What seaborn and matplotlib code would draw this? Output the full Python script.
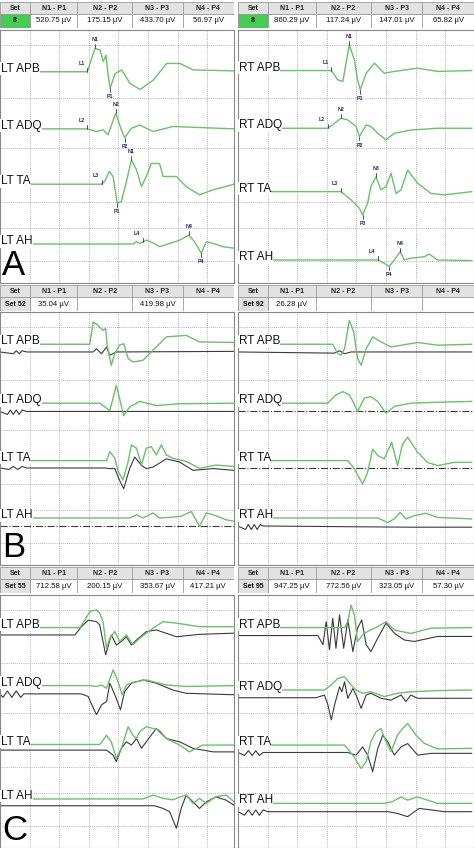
import matplotlib
matplotlib.use("Agg")
import matplotlib.pyplot as plt
from matplotlib.patches import Rectangle
import numpy as np
import seaborn as sns

sns.set_theme(style="white")
plt.rcParams["font.family"] = ["Liberation Sans", "DejaVu Sans"]

GREEN = "#6cc06c"
BLACK = "#3a3a3a"
W, H = 474, 848

MUSCLES = ["APB", "ADQ", "TA", "AH"]
HEAD_COLS = ["Set", "N1 - P1", "N2 - P2", "N3 - P3", "N4 - P4"]

# header values per panel: (set label, amplitudes)
HEAD_A_LT = ("8", ["520.75 µV", "175.15 µV", "433.70 µV", "56.97 µV"])
HEAD_A_RT = ("8", ["860.29 µV", "117.24 µV", "147.01 µV", "65.82 µV"])
HEAD_B_LT = ("Set 52", ["35.04 µV", "", "419.98 µV", ""])
HEAD_B_RT = ("Set 92", ["26.28 µV", "", "", ""])
HEAD_C_LT = ("Set 55", ["712.58 µV", "200.15 µV", "353.67 µV", "417.21 µV"])
HEAD_C_RT = ("Set 95", ["947.25 µV", "772.56 µV", "323.05 µV", "57.30 µV"])

# ---- traces: time (divisions) and amplitude (divisions) per muscle ----
A_LT = {
    "APB": ([0, 2.95, 3.21, 3.38, 3.49, 3.58, 3.66, 3.72, 3.89, 4.11, 4.39, 4.73, 5.18, 5.63, 6.08, 6.53, 7.9],
            [0, 0, 0.79, 0.73, 0.34, 0.56, -0.17, -0.56, -0.06, 0.06, -0.39, -0.6, -0.28, 0.28, 0.28, 0.06, 0.03]),
    "ADQ": ([0, 2.95, 3.26, 3.48, 3.65, 3.91, 4.1, 4.21, 4.44, 4.72, 5.17, 5.84, 7.9],
            [0, 0, -0.09, -0.03, -0.2, 0.53, -0.03, -0.3, 0.02, 0.13, -0.09, 0.08, 0]),
    "TA": ([0, 3.43, 3.54, 3.69, 3.82, 3.96, 4.1, 4.25, 4.44, 4.61, 4.78, 4.94, 5.11, 5.39, 5.51, 5.96, 6.29, 6.74, 7.2, 7.9],
           [0, 0, 0.1, 0.43, 0.26, -0.64, -0.58, 0.0, 0.82, 0.49, -0.08, 0.26, 0.7, 0.7, 0.26, 0.26, -0.08, -0.36, -0.19, 0]),
    "AH": ([0, 4.5, 4.61, 4.72, 4.94, 5.17, 5.39, 5.73, 6.07, 6.38, 6.57, 6.8, 6.97, 7.2, 7.53, 7.9],
           [0, 0, 0.08, 0.02, 0.13, 0.04, -0.09, 0.02, 0.13, 0.3, 0.08, -0.31, 0.08, 0.02, -0.09, -0.14]),
}
A_RT = {
    "APB": ([0, 3.15, 3.37, 3.54, 3.76, 3.93, 4.04, 4.13, 4.33, 4.61, 4.94, 5.28, 6.07, 6.74, 7.9],
            [0, 0, -0.31, -0.37, 0.87, 0.36, -0.31, -0.65, -0.09, 0.25, -0.09, -0.03, 0.08, -0.03, 0]),
    "ADQ": ([0, 3.03, 3.26, 3.48, 3.71, 3.99, 4.1, 4.33, 4.49, 4.72, 5.0, 5.28, 5.84, 6.74, 7.9],
            [0, 0, 0.17, 0.34, 0.28, 0.06, -0.28, 0.11, 0.06, -0.17, -0.39, -0.17, -0.06, 0, 0]),
    "TA": ([0, 3.48, 3.82, 4.1, 4.21, 4.38, 4.49, 4.66, 4.83, 5.0, 5.17, 5.34, 5.51, 5.73, 6.07, 6.52, 6.97, 7.9],
           [0, 0, -0.28, -0.56, -0.79, -0.39, 0.17, 0.5, 0.06, 0.17, 0.62, -0.06, 0.06, 0.73, 0.28, -0.06, -0.11, 0]),
    "AH": ([0, 4.72, 4.94, 5.11, 5.28, 5.48, 5.62, 5.84, 6.29, 6.46, 6.74, 7.9],
           [0, 0, -0.11, -0.22, 0, 0.28, 0, 0.06, 0.11, 0.2, 0, -0.02]),
}
B_LT_G = {
    "APB": ([0, 3.03, 3.15, 3.31, 3.48, 3.57, 3.62, 3.76, 3.88, 4.04, 4.18, 4.33, 4.49, 4.83, 5.17, 5.62, 6.29, 6.74, 7.9],
            [0, 0, 0.75, 0.64, 0.47, 0.53, -0.03, -0.71, -0.31, -0.03, 0.02, -0.48, -0.6, -0.54, -0.2, 0.25, 0.3, 0.08, 0.06]),
    "ADQ": ([0, 3.37, 3.71, 3.93, 4.07, 4.18, 4.38, 4.72, 5.28, 6.07, 7.9],
            [0, 0, -0.25, 0.6, 0.03, -0.42, -0.13, 0.06, -0.08, -0.02, 0]),
    "TA": ([0, 3.6, 3.71, 3.88, 3.99, 4.16, 4.33, 4.44, 4.61, 4.78, 4.94, 5.11, 5.28, 5.45, 5.62, 5.84, 6.29, 6.74, 7.3, 7.9],
           [0, 0, 0.3, 0.08, -0.37, -0.65, -0.03, 0.53, 0.42, -0.15, 0.42, 0.47, 0.19, 0.53, 0.19, 0.08, -0.03, -0.26, -0.15, -0.2]),
    "AH": ([0, 4.38, 4.61, 4.83, 5.17, 5.39, 5.84, 6.12, 6.46, 6.74, 6.97, 7.2, 7.64, 7.9],
           [0, 0, 0.11, 0, 0.17, 0, 0.03, 0.06, 0.22, -0.28, 0.17, 0.11, -0.06, -0.11]),
}
B_LT_K = {
    "APB": ([0, 0.45, 0.55, 0.65, 0.75, 0.9, 3.15, 3.26, 3.43, 3.6, 3.71, 3.93, 7.9],
            [0, -0.06, 0.04, -0.06, 0.04, 0, 0, 0.11, -0.06, 0.17, -0.11, 0, 0.02]),
    "ADQ": ([0, 0.25, 0.35, 0.45, 0.55, 0.65, 0.75, 0.9, 7.9],
            [0, -0.1, 0.05, -0.1, 0.05, -0.1, 0.05, 0, 0]),
    "TA": ([0, 0.3, 0.45, 0.6, 0.75, 0.9, 3.54, 3.71, 3.88, 4.04, 4.18, 4.38, 4.55, 4.78, 4.94, 5.17, 5.62, 6.07, 6.52, 7.2, 7.9],
           [0, -0.05, 0.05, -0.05, 0.05, 0, 0, -0.02, -0.02, -0.42, -0.7, -0.02, 0.37, 0.09, -0.02, 0.03, 0.31, 0.2, -0.08, -0.02, -0.08]),
    "AH": ([0, 7.9], [0, 0]),
}
B_RT_G = {
    "APB": ([0, 3.2, 3.37, 3.48, 3.6, 3.76, 3.91, 4.04, 4.16, 4.33, 4.55, 4.83, 5.17, 6.07, 6.74, 7.9],
            [0, 0, -0.31, -0.37, -0.15, 0.81, 0.42, -0.48, -0.71, -0.15, 0.25, 0.08, -0.09, 0.06, -0.03, 0]),
    "ADQ": ([0, 3.03, 3.31, 3.54, 3.76, 3.88, 4.04, 4.27, 4.49, 4.72, 5.0, 5.28, 5.84, 6.74, 7.9],
            [0, 0, 0.28, 0.39, 0.28, 0.06, -0.28, 0.17, 0.22, 0.06, -0.34, -0.11, 0, 0.03, 0.06]),
    "TA": ([0, 3.71, 3.93, 4.21, 4.38, 4.55, 4.72, 4.94, 5.19, 5.39, 5.56, 5.73, 6.07, 6.4, 6.74, 7.3, 7.9],
           [0, 0, -0.28, -0.79, -0.39, 0.39, 0.17, 0.06, 0.62, -0.17, 0.56, 0.79, 0.28, -0.06, -0.17, -0.06, -0.06]),
    "AH": ([0, 4.72, 5.06, 5.28, 5.48, 5.67, 5.96, 6.35, 6.74, 7.9],
           [0, 0, -0.15, -0.03, 0.19, -0.03, 0.08, 0.16, 0.02, -0.03]),
}
B_RT_K = {
    "APB": ([0, 3.26, 3.43, 3.6, 3.82, 7.9], [0, -0.04, 0.04, -0.06, 0, 0]),
    "ADQ": ([0, 7.9], [0, 0]),
    "TA": ([0, 7.9], [0, 0]),
    "AH": ([0, 0.25, 0.35, 0.45, 0.55, 0.65, 0.75, 0.85, 5.8, 7.9],
           [0, -0.12, 0.05, -0.12, 0.05, -0.12, 0.05, 0, -0.04, -0.04]),
}
C_LT_G = {
    "APB": ([0, 2.7, 2.87, 3.04, 3.26, 3.37, 3.48, 3.6, 3.71, 3.88, 4.04, 4.27, 4.49, 4.72, 5.17, 5.51, 5.96, 6.74, 7.9],
            [0, 0, 0.26, 0.54, 0.6, 0.48, 0.2, -0.7, -0.36, -0.13, -0.47, -0.25, -0.58, -0.36, -0.02, 0.2, 0.15, 0.03, 0.03]),
    "ADQ": ([0, 3.03, 3.26, 3.43, 3.6, 3.82, 3.99, 4.13, 4.27, 4.49, 4.94, 5.62, 6.29, 7.9],
            [0, 0, -0.03, 0.02, -0.09, 0.53, 0.13, -0.31, 0.02, 0.11, 0.19, 0.02, -0.03, 0]),
    "TA": ([0, 3.37, 3.6, 3.76, 3.93, 4.1, 4.33, 4.49, 4.61, 4.72, 4.94, 5.17, 5.39, 5.62, 6.07, 6.4, 6.85, 7.9],
           [0, 0, 0.31, 0.09, -0.47, -0.13, 0.6, 0.31, 0.2, 0.43, 0.6, 0.54, 0.48, 0.2, -0.02, -0.25, -0.02, -0.02]),
    "AH": ([0, 4.83, 5.17, 5.51, 5.84, 6.12, 6.29, 6.52, 6.74, 6.97, 7.3, 7.64, 7.9],
           [0, 0, 0.13, 0.02, -0.03, 0.08, 0.13, -0.15, 0.02, -0.15, 0.08, 0.13, -0.09]),
}
C_LT_K = {
    "APB": ([0, 2.53, 2.75, 2.98, 3.26, 3.37, 3.48, 3.57, 3.76, 3.93, 4.1, 4.27, 4.44, 4.61, 4.94, 5.28, 5.96, 6.74, 7.9],
            [0, 0, 0.28, 0.5, 0.45, 0.34, -0.22, -0.67, 0, -0.34, -0.22, -0.06, -0.34, -0.17, 0.11, 0.17, -0.06, 0.02, 0.06]),
    "ADQ": ([0, 0.1, 0.25, 0.4, 0.55, 0.7, 0.8, 2.75, 2.98, 3.15, 3.26, 3.43, 3.6, 3.71, 3.88, 4.07, 4.21, 4.44, 4.83, 5.28, 5.84, 6.29, 7.9],
            [0, -0.12, 0.1, -0.12, 0.1, -0.12, 0, 0, -0.09, -0.48, -0.7, -0.37, -0.26, 0.36, -0.03, -0.54, 0.08, 0.36, 0.47, 0.36, 0.13, 0.02, -0.03]),
    "TA": ([0, 3.6, 3.82, 3.93, 4.1, 4.27, 4.44, 4.61, 4.78, 4.94, 5.28, 5.62, 6.07, 6.52, 7.2, 7.9],
           [0, 0, -0.17, -0.39, 0.06, 0.28, 0.17, 0.39, 0.06, 0.28, 0.73, 0.39, 0.28, 0.06, -0.06, -0.06]),
    "AH": ([0, 5.22, 5.51, 5.73, 5.96, 6.12, 6.29, 6.52, 6.74, 6.97, 7.3, 7.64, 7.9],
           [0, 0, -0.09, -0.2, -0.76, -0.09, 0.36, 0.13, -0.09, 0.13, 0.3, 0.19, 0.02]),
}
C_RT_G = {
    "APB": ([0, 3.6, 3.71, 3.82, 3.93, 4.04, 4.21, 4.38, 4.72, 5.0, 5.28, 5.84, 6.52, 7.9],
            [0, 0, 0.2, 0.76, 0.43, -0.47, -0.25, -0.13, 0.03, 0.2, -0.08, -0.2, -0.02, 0]),
    "ADQ": ([0, 2.92, 3.15, 3.37, 3.6, 3.82, 3.99, 4.21, 4.49, 4.94, 5.39, 5.84, 6.74, 7.9],
            [0, 0, 0.17, 0.39, 0.45, 0.17, 0, -0.11, -0.06, -0.22, -0.11, -0.06, -0.02, 0]),
    "TA": ([0, 3.6, 3.88, 4.16, 4.33, 4.49, 4.66, 4.83, 5.0, 5.17, 5.39, 5.56, 5.73, 6.01, 6.29, 6.74, 7.9],
           [0, 0, -0.34, -0.79, -0.56, 0.11, 0.45, 0.56, 0.11, -0.22, 0.34, 0.56, 0.73, 0.34, 0.06, -0.13, -0.11]),
    "AH": ([0, 4.94, 5.22, 5.51, 5.73, 6.07, 6.4, 6.74, 7.9],
           [0, 0, 0.06, 0.22, 0.11, 0.22, 0.11, 0, 0]),
}
C_RT_K = {
    "APB": ([0, 2.7, 2.87, 2.98, 3.09, 3.2, 3.31, 3.43, 3.57, 3.71, 3.88, 4.04, 4.18, 4.33, 4.49, 4.72, 5.0, 5.28, 5.62, 5.96, 6.74, 7.9],
            [0, 0, -0.31, 0.47, -0.48, 0.58, -0.43, 0.7, -0.43, 0.53, -0.54, 0.25, 0.53, -0.31, -0.54, -0.09, 0.42, 0.08, -0.15, -0.2, -0.03, -0.03]),
    "ADQ": ([0, 2.64, 2.92, 3.04, 3.15, 3.26, 3.43, 3.51, 3.6, 3.71, 3.88, 3.99, 4.16, 4.33, 4.49, 4.83, 5.17, 5.51, 5.67, 5.84, 6.07, 6.74, 7.9],
            [0, 0, 0.09, -0.25, -0.75, -0.25, 0.37, 0.2, 0.54, -0.02, 0.31, 0.09, -0.36, 0.09, 0.15, -0.02, -0.08, 0.09, -0.13, 0.09, -0.02, -0.02, -0.02]),
    "TA": ([0, 0.22, 0.35, 0.48, 0.6, 0.72, 0.85, 3.71, 3.99, 4.21, 4.38, 4.55, 4.72, 4.89, 5.06, 5.28, 5.51, 5.73, 6.07, 6.52, 7.9],
           [0, -0.1, 0.06, -0.1, 0.06, -0.1, 0, 0, -0.09, 0.19, -0.09, -0.65, 0.13, 0.58, 0.36, -0.09, 0.19, 0.3, -0.09, -0.03, -0.03]),
    "AH": ([0, 0.22, 0.35, 0.48, 0.6, 0.72, 0.85, 1.0, 5.06, 5.39, 5.73, 5.96, 6.12, 6.52, 6.97, 7.9],
           [0, -0.12, 0.06, -0.12, 0.06, -0.12, 0.06, 0, 0, -0.06, -0.17, 0, 0.11, 0.06, 0, 0]),
}

# trace baselines (divisions below top of trace area)
BASE_A_LT = [-1.41, -3.34, -5.21, -7.23]
BASE_A_RT = [-1.37, -3.32, -5.46, -7.77]
BASE_B_G = [-1.09, -3.08, -5.02, -6.96]
BASE_B_K = [-1.35, -3.36, -5.27, -7.23]
BASE_C_LT_G = [-1.1, -3.06, -5.05, -6.89]
BASE_C_LT_K = [-1.35, -3.34, -5.24, -7.12]
BASE_C_RT_G = [-1.1, -3.21, -5.07, -7.04]
BASE_C_RT_K = [-1.37, -3.47, -5.32, -7.32]

# latency / peak markers for the top row: (muscle, label, time, above)
MARK_A_LT = [("APB", "L1", 2.95, True), ("APB", "N1", 3.21, True), ("APB", "P1", 3.72, False),
             ("ADQ", "L2", 2.95, True), ("ADQ", "N2", 3.91, True), ("ADQ", "P2", 4.21, False),
             ("TA", "L3", 3.43, True), ("TA", "N1", 4.44, True), ("TA", "P1", 3.96, False),
             ("AH", "L4", 4.83, True), ("AH", "N4", 6.38, True), ("AH", "P4", 6.8, False)]
MARK_A_RT = [("APB", "L1", 3.15, True), ("APB", "N1", 3.76, True), ("APB", "P1", 4.13, False),
             ("ADQ", "L2", 3.03, True), ("ADQ", "N2", 3.48, True), ("ADQ", "P2", 4.1, False),
             ("TA", "L3", 3.48, True), ("TA", "N3", 4.66, True), ("TA", "P3", 4.21, False),
             ("AH", "L4", 4.72, True), ("AH", "N4", 5.48, True), ("AH", "P4", 5.11, False)]

fig = plt.figure(figsize=(W / 100, H / 100), dpi=100)


def px_axes(x0, y0, w, h):
    return fig.add_axes([x0 / W, 1 - (y0 + h) / H, w / W, h / H])


def draw_header(x0, y0, w, head, green):
    ax = px_axes(x0, y0, w, 26)
    ax.set_xlim(0, w)
    ax.set_ylim(26, 0)
    ax.axis("off")
    edges = np.array([0, 0.128, 0.33, 0.565, 0.78, 1.0]) * w
    ax.add_patch(Rectangle((0, 0), w, 12, fc="#e2e2e2", ec="#9a9a9a", lw=0.6))
    ax.add_patch(Rectangle((0, 12), w, 14, fc="white", ec="#9a9a9a", lw=0.6))
    set_lbl, vals = head
    ax.add_patch(Rectangle((0, 12), edges[1], 14, fc="#44cc55" if green else "#e2e2e2",
                           ec="#9a9a9a", lw=0.6))
    for e in edges[1:-1]:
        ax.plot([e, e], [0, 26], color="#9a9a9a", lw=0.6)
    for i, col in enumerate(HEAD_COLS):
        ax.text((edges[i] + edges[i + 1]) / 2, 6.5, col, ha="center", va="center",
                fontsize=5, fontweight="bold", color="#222222")
    ax.text(edges[1] / 2, 19, set_lbl, ha="center", va="center", fontsize=5,
            fontweight="bold", color="#111111")
    for i, v in enumerate(vals):
        ax.text((edges[i + 1] + edges[i + 2]) / 2, 19, v, ha="center", va="center",
                fontsize=5.6, color="#111111")


def draw_traces(x0, y0, w, side, green, base_g, black=None, base_k=None, marks=(), letter=None):
    ax = px_axes(x0, y0, w, 253)
    ax.set_xlim(0, w / 29.6)
    ax.set_ylim(-253 / 29.6, 0)
    for gx in range(1, 8):
        ax.axvline(gx, color="#9a9a9a", lw=0.6, ls=(0, (1, 1.5)))
    for gy in [-0.5, -2.3, -4.0, -5.8, -6.7, -7.8]:
        ax.axhline(gy, color="#9a9a9a", lw=0.6, ls=(0, (1, 1.5)))
    ax.set_xticks([])
    ax.set_yticks([])
    for s in ax.spines.values():
        s.set_color("#888888")
        s.set_linewidth(0.8)
    if black is not None:
        for m, b in zip(MUSCLES, base_k):
            t, a = black[m]
            dashed = len(t) == 2
            sns.lineplot(x=t, y=np.array(a) + b, ax=ax, color=BLACK, lw=0.8,
                         ls="-." if dashed else "-", estimator=None)
    for m, b in zip(MUSCLES, base_g):
        t, a = green[m]
        sns.lineplot(x=t, y=np.array(a) + b, ax=ax, color=GREEN, lw=1.0, estimator=None)
        ax.text(0.02, b + 0.1, f"{side} {m}", ha="left", va="center", fontsize=8.5,
                color="#111111", zorder=5,
                bbox=dict(fc="white", ec="none", pad=0.3))
    for m, lbl, t0, above in marks:
        b = base_g[MUSCLES.index(m)]
        t, a = green[m]
        yv = np.interp(t0, t, a) + b
        dy = 0.22 if above else -0.22
        ax.plot([t0, t0], [yv, yv + dy * 0.6], color="#333366", lw=0.6)
        ax.text(t0 - (0.2 if lbl.startswith("L") else 0), yv + dy * 1.3, lbl, ha="center",
                va="center", fontsize=3.8, fontweight="bold", color="#22226a")
    if letter:
        ax.text(0.08, -8.5, letter, ha="left", va="bottom", fontsize=25, color="black")


draw_header(0, 2, 234, HEAD_A_LT, True)
draw_header(238, 2, 236, HEAD_A_RT, True)
draw_traces(0, 30, 234, "LT", A_LT, BASE_A_LT, marks=MARK_A_LT, letter="A")
draw_traces(238, 30, 236, "RT", A_RT, BASE_A_RT, marks=MARK_A_RT)

draw_header(0, 285, 234, HEAD_B_LT, False)
draw_header(238, 285, 236, HEAD_B_RT, False)
draw_traces(0, 312, 234, "LT", B_LT_G, BASE_B_G, B_LT_K, BASE_B_K, letter="B")
draw_traces(238, 312, 236, "RT", B_RT_G, BASE_B_G, B_RT_K, BASE_B_K)

draw_header(0, 567, 234, HEAD_C_LT, False)
draw_header(238, 567, 236, HEAD_C_RT, False)
draw_traces(0, 595, 234, "LT", C_LT_G, BASE_C_LT_G, C_LT_K, BASE_C_LT_K, letter="C")
draw_traces(238, 595, 236, "RT", C_RT_G, BASE_C_RT_G, C_RT_K, BASE_C_RT_K)

fig.savefig("out.png", dpi=100, facecolor="white")
